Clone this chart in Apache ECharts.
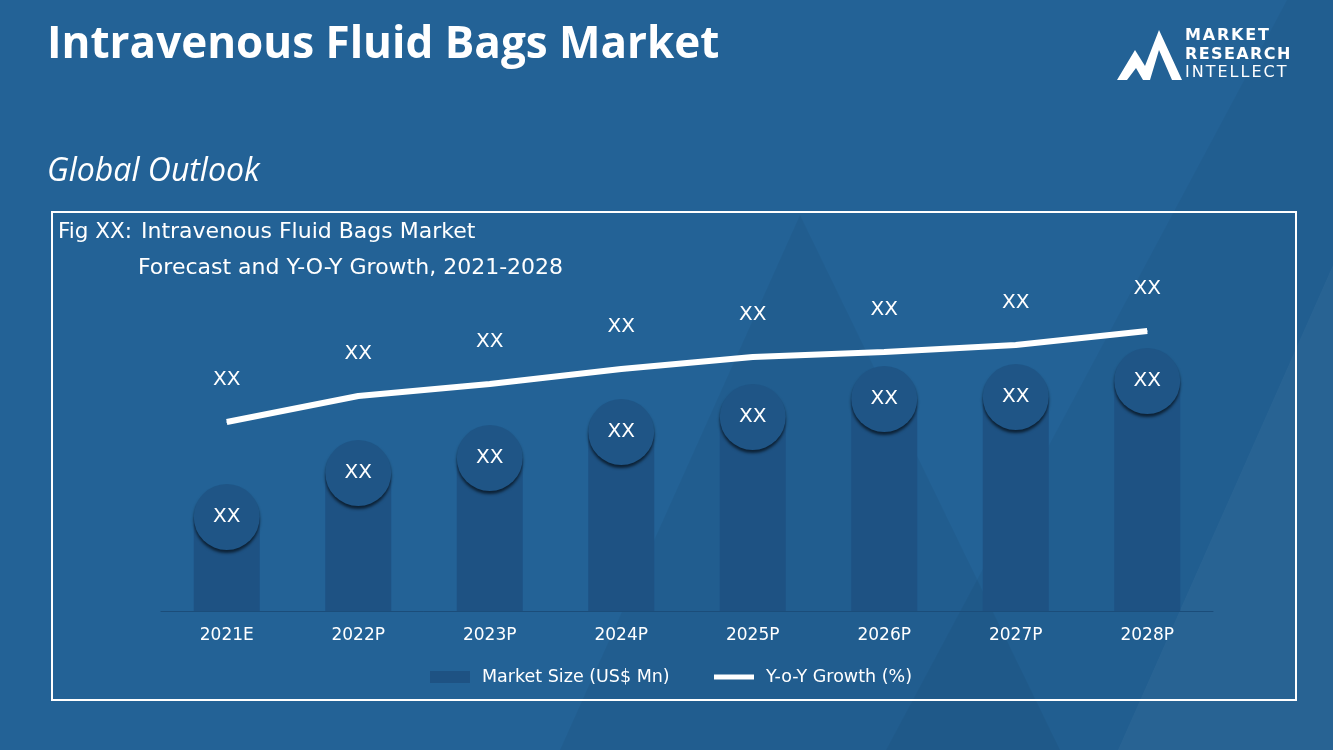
<!DOCTYPE html>
<html>
<head>
<meta charset="utf-8">
<script src="https://cdn.jsdelivr.net/npm/echarts@6/dist/echarts.min.js"></script>
<style>
html,body{margin:0;padding:0;background:#236296;}
#chart{width:1333px;height:750px;}
</style>
</head>
<body>
<div id="chart"></div>
<script>
// ---- data ----
const categories = ['2021E','2022P','2023P','2024P','2025P','2026P','2027P','2028P'];
const marketSize = [94, 138, 153, 179, 194, 212, 214, 230];
const yoyGrowth = [189, 215, 227, 242, 254, 259, 266, 280];
const barLabels = ['XX','XX','XX','XX','XX','XX','XX','XX'];
const lineLabels = ['XX','XX','XX','XX','XX','XX','XX','XX'];

const FONT = "'DejaVu Sans', sans-serif";
const chart = echarts.init(document.getElementById('chart'), null, {renderer:'canvas'});

// letter-spaced logo text helper
const ctx = document.createElement('canvas').getContext('2d');
function spaced(text, x, y, size, weight, spacing) {
  const els = [];
  ctx.font = weight + ' ' + size + 'px ' + FONT;
  let cx = x;
  for (const ch of text) {
    els.push({type:'text', left:cx, top:y, silent:true,
      style:{text:ch, fill:'#ffffff', font: weight + ' ' + size + 'px ' + FONT}});
    cx += ctx.measureText(ch).width + spacing;
  }
  return els;
}

const graphics = [
  // background shapes
  {type:'polygon', silent:true, z:-10, shape:{points:[[800,215],[560,750],[1060,750]]}, style:{fill:'rgba(0,0,0,0.045)'}},
  {type:'polygon', silent:true, z:-10, shape:{points:[[1287,0],[1333,0],[1333,750],[886,750]]}, style:{fill:'rgba(0,0,0,0.035)'}},
  {type:'polygon', silent:true, z:-9, shape:{points:[[1333,265],[1333,750],[1118,750]]}, style:{fill:'rgba(255,255,255,0.035)'}},
  // titles
  {type:'text', left:47, top:23, style:{text:'Intravenous Fluid Bags Market', fill:'#ffffff', font:"bold 44px 'Open Sans', sans-serif"}},
  {type:'text', left:47, top:156, style:{text:'Global Outlook', fill:'#ffffff', font:"italic 32px 'Open Sans', sans-serif"}},
  // box
  {type:'rect', silent:true, shape:{x:52, y:212, width:1244, height:488}, style:{fill:'none', stroke:'#ffffff', lineWidth:2}},
  {type:'text', left:58, top:221, style:{text:'Fig XX:', fill:'#ffffff', font:"21.5px " + FONT}},
  {type:'text', left:141, top:221, style:{text:'Intravenous Fluid Bags Market', fill:'#ffffff', font:"22px " + FONT}},
  {type:'text', left:138, top:257, style:{text:'Forecast and Y-O-Y Growth, 2021-2028', fill:'#ffffff', font:"22px " + FONT}},
  // logo mark
  {type:'polygon', silent:true, shape:{points:[[1117,80],[1135,50],[1145,66],[1159,30],[1182,80],[1172,80],[1159,50],[1150,80],[1143,80],[1136,68],[1127,80]]}, style:{fill:'#ffffff'}}
].concat(
  spaced('MARKET', 1185, 28, 16, 'bold', 1.8),
  spaced('RESEARCH', 1185, 47, 16, 'bold', 1.4),
  spaced('INTELLECT', 1185, 65, 16, 'normal', 2.0)
);

chart.setOption({
  backgroundColor:'#236296',
  animation:false,
  graphic: graphics,
  grid:{left:161, right:120, top:311, bottom:139},
  legend:[
    {left:425, top:663, itemWidth:40, itemHeight:12, itemGap:10,
     data:[{name:'Market Size (US$ Mn)', icon:'rect'}],
     textStyle:{color:'#ffffff', fontSize:17.5, fontFamily:FONT, padding:[0,0,0,7]}},
    {left:709, top:663, itemWidth:40, itemHeight:5,
     data:[{name:'Y-o-Y Growth (%)', icon:'rect'}],
     textStyle:{color:'#ffffff', fontSize:17.5, fontFamily:FONT, padding:[0,0,0,7]}}
  ],
  xAxis:{type:'category', data:categories,
    axisLine:{show:true, lineStyle:{color:'#1b4d7a', width:1}},
    axisTick:{show:false},
    axisLabel:{color:'#ffffff', fontSize:17, fontFamily:FONT, margin:16}},
  yAxis:[
    {type:'value', min:0, max:300, show:false},
    {type:'value', min:0, max:300, show:false}
  ],
  series:[
    {name:'Market Size (US$ Mn)', type:'bar', data:marketSize, barWidth:66,
     itemStyle:{color:'#1e5283'}, z:2},
    {name:'bubble', type:'scatter', data:marketSize, symbolSize:66, z:3,
     itemStyle:{color:'#1f5586', opacity:1, shadowColor:'rgba(0,0,0,0.6)', shadowBlur:3, shadowOffsetY:3},
     label:{show:true, position:'inside', color:'#ffffff', fontSize:20, fontFamily:FONT,
       formatter:p => barLabels[p.dataIndex]}},
    {name:'Y-o-Y Growth (%)', type:'line', yAxisIndex:1, data:yoyGrowth, z:4,
     symbol:'circle', symbolSize:1, showSymbol:true,
     lineStyle:{color:'#ffffff', width:6}, itemStyle:{color:'#ffffff'},
     label:{show:true, position:'top', distance:32, color:'#ffffff', fontSize:20, fontFamily:FONT,
       formatter:p => lineLabels[p.dataIndex]}}
  ]
});
</script>
</body>
</html>
